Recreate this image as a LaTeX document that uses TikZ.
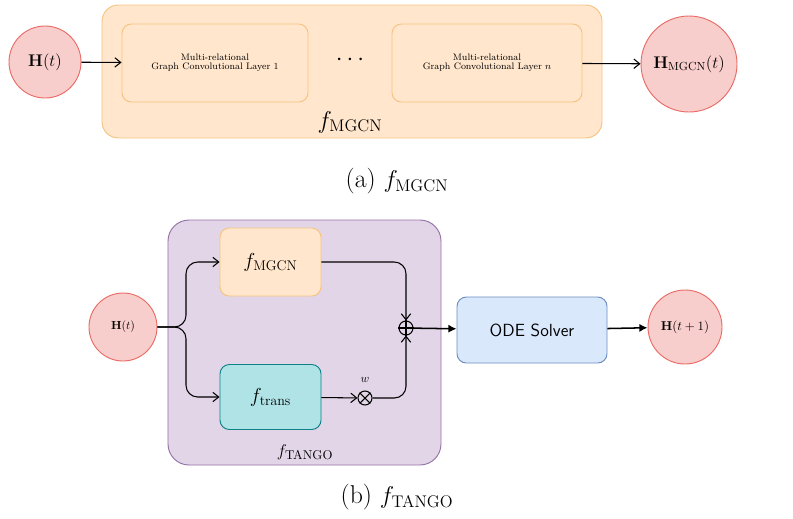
\documentclass[tikz,border=0pt]{standalone}
\usetikzlibrary{positioning,arrows.meta}
\definecolor{rf}{RGB}{248,206,204}
\definecolor{rd}{RGB}{234,107,102}
\definecolor{of}{RGB}{255,230,204}
\definecolor{od}{RGB}{246,196,130}
\definecolor{pf}{RGB}{225,213,231}
\definecolor{pd}{RGB}{150,115,166}
\definecolor{tf}{RGB}{176,227,230}
\definecolor{td}{RGB}{14,128,136}
\definecolor{bf}{RGB}{218,232,252}
\definecolor{bd}{RGB}{108,142,191}
\newcommand{\fs}[1]{\fontsize{#1}{#1}\selectfont}

\begin{document}
\begin{tikzpicture}[
    x=0.03cm, y=-0.03cm,
    v/.style={
        circle, fill=rf, draw=rd, line width=0.8pt, font=\fs{14}
    },
    e/.style={
        rounded corners=8pt, fill=of, draw=od, line width=0.8pt,
        font=\fs{8}, align=center
    },
    l/.style={line width=0.9pt, -{Straight Barb[length=5pt,width=8pt]}},
    t/.style={line width=1.3pt, -{Latex[length=7pt,width=7pt]}},
    caption/.style={font=\fs{22}}
]
\useasboundingbox (0,0) rectangle (793,518);

% (a)
\node [e, minimum width=15cm, minimum height=3.99cm, rounded corners=14pt] (B) at (352,71.5) {};
\node [v, minimum size=2.16cm] (H) at (45,62) {$\mathbf{H}(t)$};
\node [e, minimum width=5.58cm, minimum height=2.34cm] (L1) at (215,63) {Multi-relational\\Graph Convolutional Layer $1$};
\node [e, minimum width=5.7cm, minimum height=2.34cm] (Ln) at (487,63) {Multi-relational\\Graph Convolutional Layer $n$};
\node [font=\fs{20}\bfseries] (dots) at (350,60) {$\cdots$};
\node [font=\fs{20}] (fa) at (350,122) {$f_{\mathrm{MGCN}}$};
\node [v, minimum size=2.88cm] (O) at (689,64) {$\mathbf{H}_{\mathrm{MGCN}}(t)$};

\draw [l] (H) -- (L1);
\draw [l] (Ln) -- (O);

\node [caption] (ca) at (397,181) {(a) $f_{\mathrm{MGCN}}$};

% (b)
\node [e, fill=pf, draw=pd, minimum width=8.19cm, minimum height=7.35cm, rounded corners=18pt] (P) at (304.5,342.5) {};
\node [v, minimum size=2.04cm, font=\fs{10}] (H2) at (123,327) {$\mathbf{H}(t)$};
\node [e, minimum width=3.03cm, minimum height=2.04cm, font=\fs{18}] (M) at (270.5,262) {$f_{\mathrm{MGCN}}$};
\node [e, fill=tf, draw=td, minimum width=3.03cm, minimum height=1.95cm, font=\fs{18}] (T) at (270.5,397) {$f_{\mathrm{trans}}$};
\node [circle, draw, line width=0.9pt, inner sep=0pt, minimum size=0.42cm] (plus) at (406,328) {};
\draw [line width=0.9pt] (plus.north) -- (plus.south) (plus.west) -- (plus.east);
\node [circle, draw, line width=0.9pt, inner sep=0pt, minimum size=0.42cm] (times) at (365,398) {};
\draw [line width=0.9pt] (times.north west) -- (times.south east) (times.north east) -- (times.south west);
\node [font=\fs{10}] (w) at (365,380) {$w$};
\node [font=\fs{15}] (fb) at (305,452) {$f_{\mathrm{TANGO}}$};
\node [e, fill=bf, draw=bd, minimum width=4.5cm, minimum height=1.98cm, font=\sffamily\fs{15}] (S) at (532,330) {ODE Solver};
\node [v, minimum size=2.22cm, font=\fs{11}] (O2) at (685,327) {$\mathbf{H}(t+1)$};

\draw [l, rounded corners=10pt] (H2.east) -- (186,327) |- (M.west);
\draw [l, rounded corners=10pt] (H2.east) -- (186,327) |- (T.west);
\draw [l] (T) -- (times);
\draw [l, rounded corners=10pt] (M.east) -| (plus.north);
\draw [l, rounded corners=10pt] (times.east) -| (plus.south);
\draw [t] (plus) -- (S);
\draw [t] (S) -- (O2);

\node [caption] (cb) at (397,497) {(b) $f_{\mathrm{TANGO}}$};

\end{tikzpicture}
\end{document}
